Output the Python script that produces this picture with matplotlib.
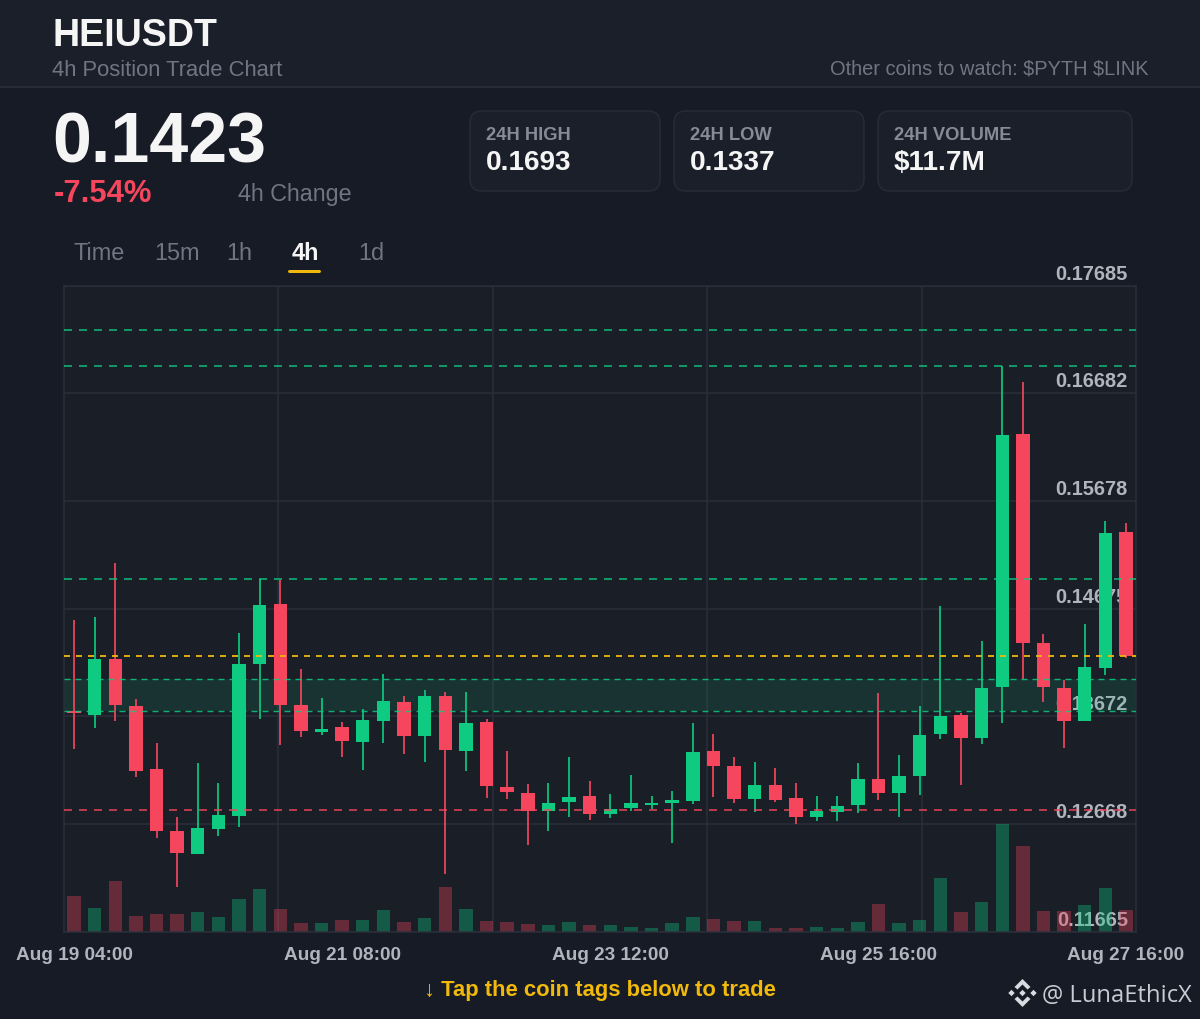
import matplotlib
matplotlib.use("Agg")
import matplotlib.pyplot as plt
from matplotlib.patches import FancyBboxPatch, Polygon, Rectangle

plt.rcParams['font.family'] = ['Liberation Sans', 'DejaVu Sans']
plt.rcParams['lines.scale_dashes'] = False
plt.rcParams['text.parse_math'] = False

# ---------- data ----------
symbol = "HEIUSDT"
subtitle = "4h Position Trade Chart"
watch = "Other coins to watch: $PYTH $LINK"
last_price = "0.1423"
change = "-7.54%"
change_label = "4h Change"
stats = [("24H HIGH", "0.1693"), ("24H LOW", "0.1337"), ("24H VOLUME", "$11.7M")]
tabs = ["Time", "15m", "1h", "4h", "1d"]
active_tab = "4h"

opens = [.13718,.13681,.14209,.13768,.13181,.12600,.12392,.12622,.12740,.14162,.14719,.13780,.13522,
         .13569,.13433,.13631,.13808,.13492,.13860,.13352,.13619,.13016,.12958,.12793,.12870,.12930,
         .12762,.12814,.12842,.12861,.12883,.13349,.13209,.12902,.13028,.12907,.12734,.12783,.12842,
         .13088,.12954,.13112,.13504,.13687,.13473,.13942,.16299,.14355,.13936,.13625,.14122,.15390]
highs = [.14573,.14598,.15101,.13830,.13420,.12730,.13237,.13051,.14451,.14952,.14945,.14113,.13839,
         .13622,.13740,.14069,.13864,.13920,.13902,.13899,.13647,.13349,.13041,.13051,.13289,.13069,
         .12948,.13128,.12930,.12979,.13610,.13510,.13289,.13249,.13191,.13051,.12930,.12930,.13237,
         .13889,.13308,.13771,.14700,.13703,.14377,.16933,.16788,.14439,.14011,.14529,.15492,.15474]
lows = [.13370,.13560,.13631,.13109,.12541,.12082,.12392,.12553,.12641,.13650,.13401,.13482,.13501,
        .13289,.13168,.13420,.13321,.13249,.12203,.13163,.12914,.12902,.12473,.12603,.12730,.12702,
        .12721,.12793,.12808,.12492,.12851,.12923,.12861,.12781,.12870,.12672,.12699,.12693,.12771,
        .12889,.12730,.12942,.13464,.13032,.13411,.13613,.14023,.13802,.13373,.13625,.14054,.14216]
closes = [.13703,.14209,.13774,.13163,.12603,.12401,.12631,.12749,.14160,.14710,.13780,.13532,.13557,
          .13442,.13638,.13818,.13492,.13858,.13361,.13610,.13023,.12963,.12793,.12867,.12917,.12765,
          .12808,.12867,.12861,.12889,.13340,.13212,.12902,.13028,.12892,.12734,.12786,.12837,.13088,
          .12954,.13119,.13498,.13678,.13473,.13936,.16297,.14355,.13942,.13625,.14128,.15381,.14231]
# volume, relative to the largest bar = 100
volumes = [32.7,21.6,47.5,14.2,16.4,16.0,18.2,13.6,30.6,39.8,21.3,7.7,7.7,10.8,10.8,19.7,8.9,12.9,41.4,
           20.9,10.2,8.9,6.8,6.5,9.3,6.5,6.5,4.6,3.1,7.7,13.9,12.0,9.5,10.2,3.9,3.1,4.6,3.9,9.3,
           25.6,8.0,10.8,49.7,18.2,27.8,100.0,79.9,18.8,19.1,25.0,41.0,20.6]
price_ticks = [0.17685, 0.16682, 0.15678, 0.14675, 0.13672, 0.12668, 0.11665]
price_tick_labels = ["0.17685", "0.16682", "0.15678", "0.14675", "0.13672", "0.12668", "0.11665"]
date_positions = [0, 13, 26, 39, 51]
date_labels = ["Aug 19 04:00", "Aug 21 08:00", "Aug 23 12:00", "Aug 25 16:00", "Aug 27 16:00"]
targets = [0.17275, 0.16933, 0.14950]
entry_zone = (0.13725, 0.14018)
current_price = 0.1423
stop_loss = 0.12802

# ---------- colours ----------
PAGE = "#171b25"; HEAD = "#1a1f29"; PANEL = "#1a1e27"; RULE = "#262b37"; GRID = "#2a2e39"
GREEN = "#0ecb81"; RED = "#f6465d"; GOLD = "#f0b90b"
WHITE = "#f5f5f5"; MUTED = "#6f7683"; LABEL = "#b0b4bd"

fig = plt.figure(figsize=(12, 10.2), dpi=100, facecolor=PAGE)
W, H = 1200, 1020
px = lambda n: n * 0.72      # pixels -> points

# page layer in pixel coordinates
bg = fig.add_axes([0, 0, 1, 1], zorder=0)
bg.set_xlim(0, W); bg.set_ylim(H, 0); bg.axis("off")
bg.add_patch(Rectangle((0, 0), W, 88, fc=HEAD, ec="none"))
bg.plot([0, W], [88, 88], color=RULE, lw=px(2))

bg.text(52.5, 32, symbol, fontsize=px(37.6), fontweight="bold", color=WHITE, va="center_baseline")
bg.text(52, 67.5, subtitle, fontsize=px(22), color=MUTED, va="center_baseline")
bg.text(1148, 67.5, watch, fontsize=px(20), color=MUTED, ha="right", va="center_baseline")
bg.text(52, 137, last_price, fontsize=px(70), fontweight="bold", color=WHITE, va="center_baseline")
bg.text(54, 191, change, fontsize=px(31), fontweight="bold", color=RED, va="center_baseline")
bg.text(238, 192, change_label, fontsize=px(23.2), color=MUTED, va="center_baseline")

for (lab, val), (x0, x1) in zip(stats, [(470, 660), (674, 864), (878, 1132)]):
    bg.add_patch(FancyBboxPatch((x0 + 12, 124), x1 - x0 - 24, 56, boxstyle="round,pad=12,rounding_size=12",
                                fc="#1b1f29", ec=RULE, lw=px(1.5)))
    bg.text(x0 + 16, 133, lab, fontsize=px(18.4), fontweight="bold", color="#858b97", va="center_baseline")
    bg.text(x0 + 16, 160, val, fontsize=px(28), fontweight="bold", color=WHITE, va="center_baseline")

for t, x in zip(tabs, [99, 177, 239, 305, 371]):
    on = t == active_tab
    bg.text(x, 251, t, fontsize=px(23.5), fontweight="bold" if on else "normal",
            color=WHITE if on else MUTED, ha="center", va="center_baseline")
bg.plot([289, 319], [271.5, 271.5], color=GOLD, lw=px(3), solid_capstyle="round")

bg.text(600, 988, "↓ Tap the coin tags below to trade", fontsize=px(22), fontweight="bold",
        color=GOLD, ha="center", va="center_baseline")
bg.text(1192, 993, "@ LunaEthicX", family=["Open Sans", "DejaVu Sans"], fontsize=px(23.7), color="#c8ccd3",
        ha="right", va="center_baseline")
# exchange mark beside the handle
cx, cy = 1022.5, 994
for dx, dy, r in [(-11, 0, 3.2), (11, 0, 3.2), (0, 0, 3.2)]:
    bg.add_patch(Polygon([(cx+dx-r, cy+dy), (cx+dx, cy+dy-r), (cx+dx+r, cy+dy), (cx+dx, cy+dy+r)], fc="#d8dbe0", ec="none"))
for sy in (-1, 1):
    bg.add_patch(Polygon([(cx-8, cy+sy*6), (cx, cy+sy*14), (cx+8, cy+sy*6), (cx+5, cy+sy*3.5),
                          (cx, cy+sy*8.5), (cx-5, cy+sy*3.5)], fc="#d8dbe0", ec="none"))

# chart
ax = fig.add_axes([64/W, 1 - 932.7/H, (1136-64)/W, (932.7-286.7)/H], zorder=1, facecolor=PANEL)
ax.set_xlim(-0.485, 51.485)
ax.set_ylim(price_ticks[-1], price_ticks[0])
for s in ax.spines.values():
    s.set_color(GRID); s.set_linewidth(px(1.5))
ax.set_yticks([])
ax.set_xticks(date_positions, date_labels, fontsize=px(19), fontweight="bold", color=LABEL)
ax.tick_params(axis="x", length=0, pad=px(14))

ax.hlines(price_ticks, 0, 1, transform=ax.get_yaxis_transform(), color=GRID, lw=px(1.5), zorder=0.5)
ax.vlines([0.2, 0.4, 0.6, 0.8], 0, 1, transform=ax.transAxes, color=GRID, lw=px(1.5), zorder=0.5)

for v, lab in zip(price_ticks, price_tick_labels):
    ax.annotate(lab, xy=(1, v), xycoords=ax.get_yaxis_transform(), xytext=(-8, 14.5), textcoords="offset pixels",
                ha="right", va="center_baseline", fontsize=px(20), fontweight="bold", color=LABEL,
                zorder=1, annotation_clip=False)

ax.axhspan(*entry_zone, color=GREEN, alpha=0.12, lw=0, zorder=1.5)
for v in entry_zone:
    ax.axhline(v, color=GREEN, alpha=0.85, lw=px(1.4), ls=(0, (px(6), px(5))), dash_capstyle="butt", zorder=4)
for v in targets:
    ax.axhline(v, color=GREEN, alpha=0.7, lw=px(2), ls=(0, (px(8), px(7))), dash_capstyle="butt", zorder=4)
ax.axhline(stop_loss, color=RED, alpha=0.7, lw=px(2), ls=(0, (px(8), px(7))), dash_capstyle="butt", zorder=4)
ax.axhline(current_price, color=GOLD, alpha=0.9, lw=px(2), ls=(0, (px(6), px(6))), dash_capstyle="butt", zorder=4)

vmax = max(volumes)
for i, (o, h, l, c, v) in enumerate(zip(opens, highs, lows, closes, volumes)):
    col = GREEN if c >= o else RED
    ax.bar(i, v / vmax / 6, width=0.65, bottom=0, color=col, alpha=0.35, lw=0, zorder=2,
           transform=ax.get_xaxis_transform())
    ax.vlines(i, l, h, color=col, lw=px(1.7), zorder=3)
    ax.bar(i, abs(c - o), width=0.65, bottom=min(o, c), color=col, lw=0, zorder=3.2)

fig.savefig("out.png", dpi=100, facecolor=PAGE)
